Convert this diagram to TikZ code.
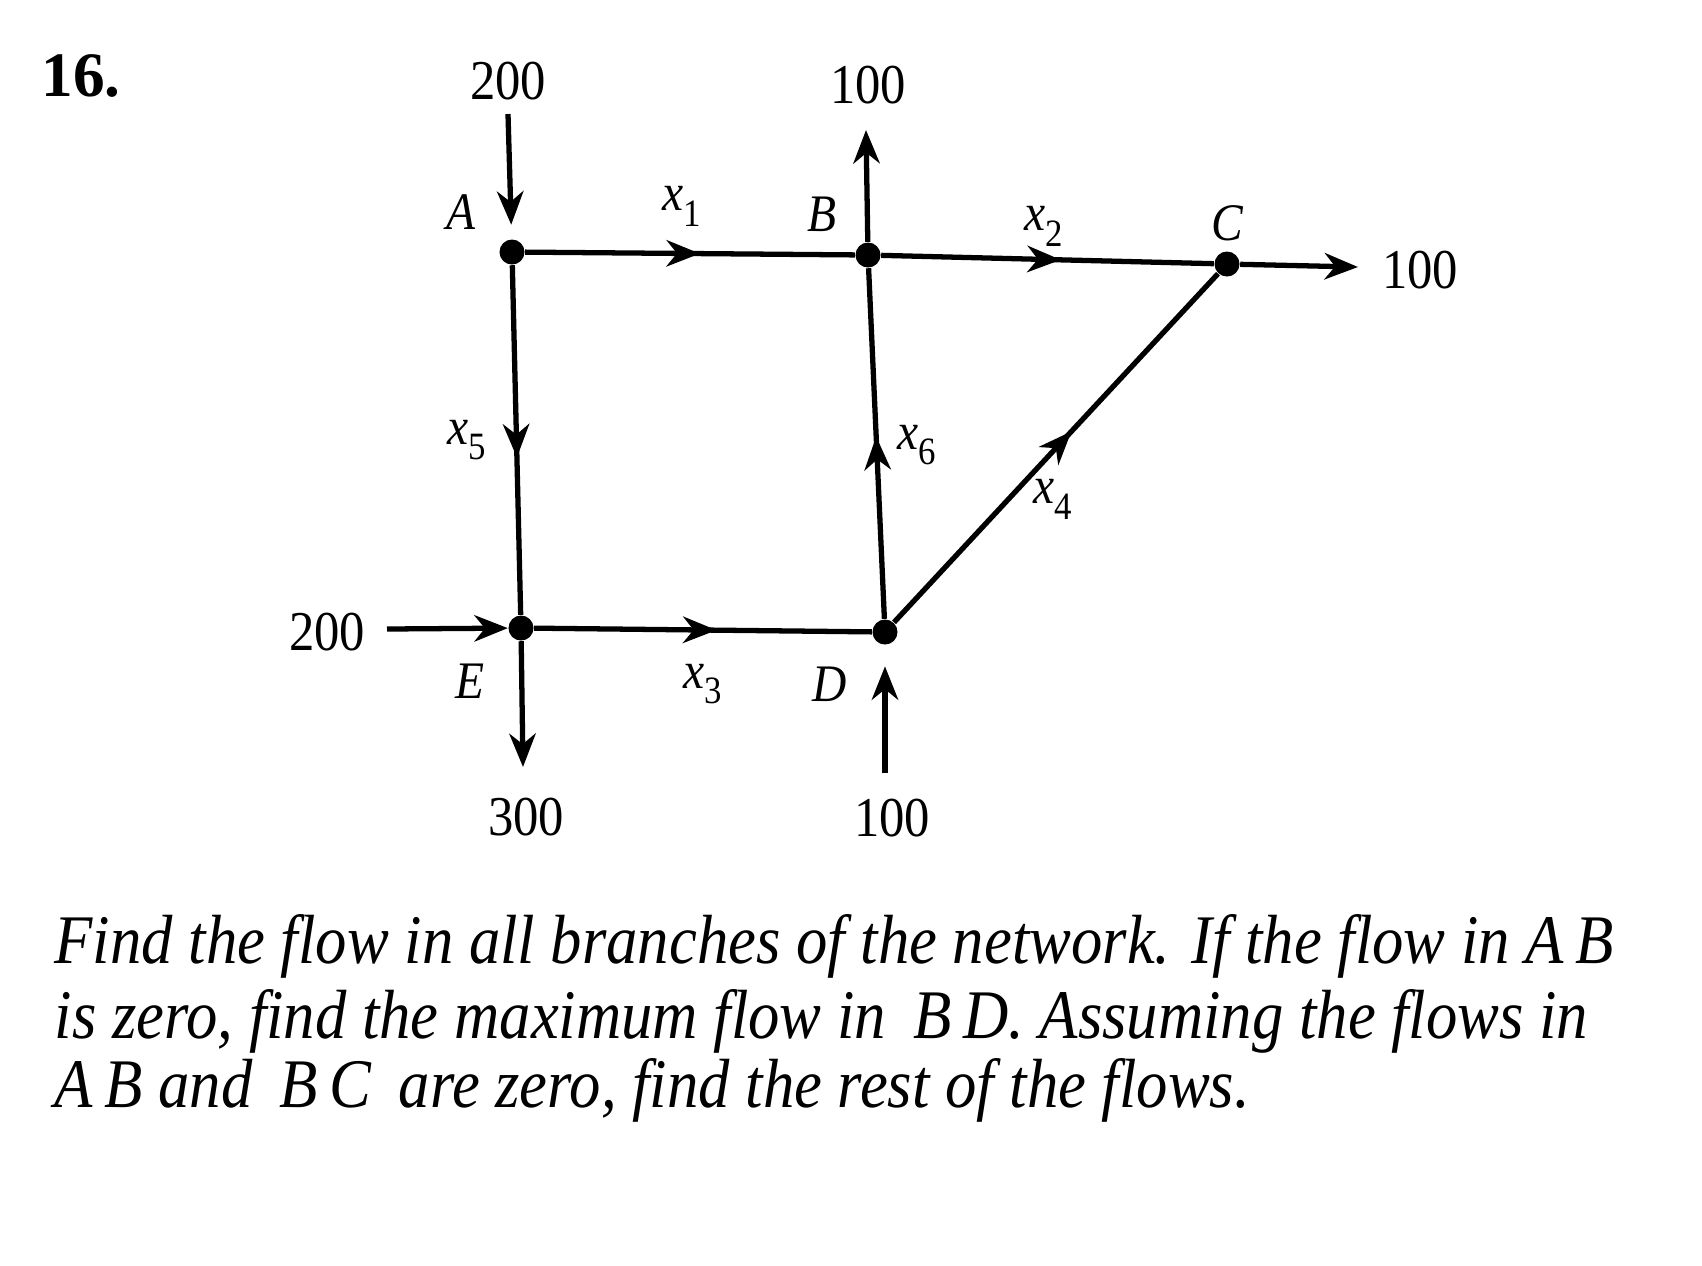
\documentclass[tikz,border=0pt]{standalone}
\usepackage{fontspec}
\setmainfont{Liberation Serif}
\newfontfamily\bookfont[FakeStretch=0.9]{Liberation Serif}
\usetikzlibrary{arrows.meta,decorations.markings}
\tikzset{
  junction/.style={circle,fill=black,inner sep=0pt,minimum size=0.25cm},
  flow/.style={line width=1.5pt,-{Stealth[length=9.5pt,width=7.5pt,inset=3pt]}},
  midflow/.style={line width=1.5pt,postaction={decorate},
    decoration={markings,mark=at position #1 with
      {\arrow{Stealth[length=9.5pt,width=7.5pt,inset=3pt]}}}},
  midflow/.default=0.52,
  lbl/.style={font=\bookfont\fontsize{16}{18}\selectfont,inner sep=0pt},
  ltr/.style={font=\bookfont\itshape\fontsize{15}{17}\selectfont,inner sep=0pt},
  para/.style={font=\bookfont\itshape\fontsize{19.8}{23}\selectfont,inner sep=0pt,anchor=base west},
}
\newcommand{\xsub}[1]{x\raisebox{-0.3em}{\upshape\fontsize{11}{11}\selectfont #1}}
\begin{document}
\begin{tikzpicture}[x=0.01cm,y=-0.01cm]
      \useasboundingbox (0,0) rectangle (1702,1265);
      \path
        (512,252) node[junction] (A) {}
        (868,255) node[junction] (B) {}
        (1227,264) node[junction] (C) {}
        (885,632) node[junction] (D) {}
        (521,628) node[junction] (E) {}
        (508,114) coordinate (inA)
        (866,130) coordinate (outB)
        (1358,267) coordinate (outC)
        (387,629) coordinate (inE)
        (523,767) coordinate (outE)
        (885,773) coordinate (inD);
      % outside flows
      \begin{scope}[flow]
        \draw[shorten >=4pt] (inA) to (A);
        \draw (B) to (outB);
        \draw (C) to (outC);
        \draw (inE) to (E);
        \draw (E) to (outE);
        \draw[shorten >=6pt] (inD) to (D);
      \end{scope}
      % branches
      \draw[midflow=0.53] (A) to (B);
      \draw[midflow=0.54] (B) to (C);
      \draw[midflow=0.55] (A) to (E);
      \draw[midflow=0.54] (E) to (D);
      \draw[midflow=0.52] (D) to (B);
      \draw[midflow=0.55] (D) to (C);
      % labels
      \node[font=\bfseries\fontsize{18}{20}\selectfont,inner sep=0pt] (num) at (81,76) {16.};
      \node[lbl] (tA) at (508,81) {200};
      \node[lbl] (tB) at (868,85) {100};
      \node[lbl] (tC) at (1420,270) {100};
      \node[lbl] (tE) at (327,632) {200};
      \node[lbl] (bE) at (526,817) {300};
      \node[lbl] (bD) at (892,818) {100};
      \node[ltr] (nA) at (461,212) {A};
      \node[ltr] (nB) at (822,214) {B};
      \node[ltr] (nC) at (1227,223) {C};
      \node[ltr] (nD) at (830,684) {D};
      \node[ltr] (nE) at (470,681) {E};
      \node[ltr] (x1) at (682,206) {\xsub{1}};
      \node[ltr] (x2) at (1044,226) {\xsub{2}};
      \node[ltr] (x3) at (703,684) {\xsub{3}};
      \node[ltr] (x4) at (1053,499) {\xsub{4}};
      \node[ltr] (x5) at (467,440) {\xsub{5}};
      \node[ltr] (x6) at (917,445) {\xsub{6}};
      % question text
      \node[para] (line1) at (54,963) {Find the flow in all branches of the network. If the flow in A\,B};
      \node[para] (line2) at (54,1038) {is zero, find the maximum flow in \,B\,D. Assuming the flows in};
      \node[para] (line3) at (54,1107) {A\,B and \,B\,C \,are zero, find the rest of the flows.};
    \end{tikzpicture}
\end{document}
